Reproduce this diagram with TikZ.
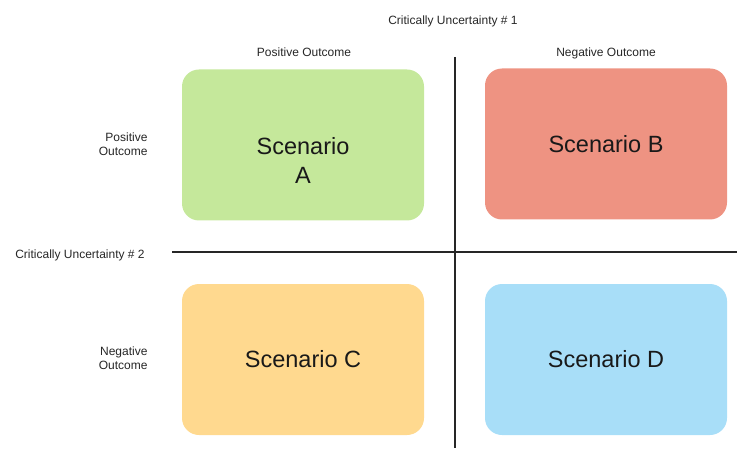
\documentclass[tikz,border=0pt]{standalone}
\usepackage{fontspec}
\setmainfont{Liberation Sans}
\usetikzlibrary{positioning}

\definecolor{scenA}{HTML}{C5E89B}
\definecolor{scenB}{HTML}{EE9382}
\definecolor{scenC}{HTML}{FFD98F}
\definecolor{scenD}{HTML}{A8DEF8}

\begin{document}
\begin{tikzpicture}[x=1pt, y=-1pt,
    scenario/.style={rectangle, rounded corners=17pt, minimum width=242pt, minimum height=151pt, align=center, font=\fontsize{23.5}{29}\selectfont, text=black!90},
    lbl/.style={font=\fontsize{12}{14}\selectfont, text=black!85},
    axis/.style={line width=1.6pt, black!85}]
            \useasboundingbox (0,0) rectangle (746,454);
            \node[scenario, fill=scenA, label={[align=center, font=\fontsize{23.5}{29}\selectfont, text=black!90, yshift=-15pt]center:Scenario\\A}] (scenA) at (303,145) {};
            \node[scenario, fill=scenB] (scenB) at (606,144) {Scenario B};
            \node[scenario, fill=scenC] (scenC) at (303,359.5) {Scenario C};
            \node[scenario, fill=scenD] (scenD) at (606,359.5) {Scenario D};
            \node[lbl] (unc1) at (453,21) {Critically Uncertainty \# 1};
            \node[lbl] (pos1) at (304,52) {Positive Outcome};
            \node[lbl] (neg1) at (606,53) {Negative Outcome};
            \node[lbl, align=right, anchor=east] (pos2) at (151,144) {Positive\\Outcome};
            \node[lbl, align=right, anchor=east] (neg2) at (151,358) {Negative\\Outcome};
            \node[lbl] (unc2) at (80,255) {Critically Uncertainty \# 2};
            \coordinate (vtop) at (455,57);
            \coordinate (vbot) at (455,448);
            \coordinate (hleft) at (172,252);
            \coordinate (hright) at (737,252);
            \draw[axis] (vtop) -- (vbot);
            \draw[axis] (hleft) -- (hright);
        \end{tikzpicture}
\end{document}
